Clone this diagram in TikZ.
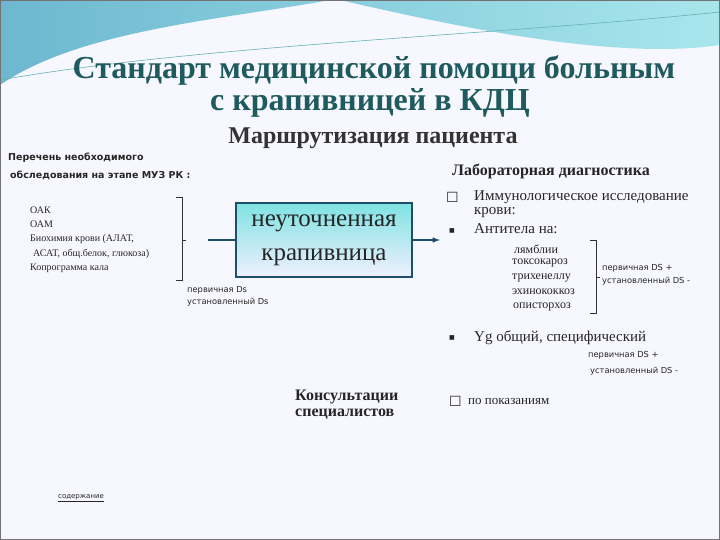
\documentclass[tikz,border=0pt]{standalone}
\usepackage{fontspec}
\setmainfont{Liberation Serif}
\newfontfamily\smallsans{DejaVu Sans}
\usetikzlibrary{positioning,arrows}
\definecolor{titleteal}{HTML}{1E5A5E}
\definecolor{boxedge}{HTML}{1E4F6A}
\definecolor{wavea}{HTML}{6DB8D0}
\definecolor{waveb}{HTML}{A8E6EC}
\tikzset{
  title/.style = {font=\fontsize{32}{34}\selectfont\bfseries, text=titleteal},
  plain/.style = {inner sep=0pt, anchor=west, text=black!85},
  tiny/.style  = {plain, font=\smallsans\fontsize{8.3}{9}\selectfont},
  listtxt/.style = {plain, font=\fontsize{10}{11}\selectfont},
  labtxt/.style = {plain, font=\fontsize{15}{16}\selectfont},
  diagbox/.style = {draw=boxedge, line width=2pt, top color=cyan!55!teal!50, bottom color=blue!6,
    minimum width=176pt, minimum height=73pt, align=center,
    font=\fontsize{25}{34}\selectfont, text=black!85}
}
\begin{document}
\begin{tikzpicture}[x=1pt,y=-1pt]
  \useasboundingbox (0,0) rectangle (720,540);
  \fill[white!97!blue] (0,0) rectangle (720,540);
  % waves on top
  \shade[left color=wavea, right color=waveb] (0,0) -- (720,0) -- (720,45)
    .. controls (620,60) and (470,30) .. (340,0) -- (330,0)
    .. controls (220,20) and (80,30) .. (0,85) -- cycle;
  \draw[teal!60, line width=0.6pt] (0,80) .. controls (200,45) and (500,35) .. (720,12);
  \draw[black!55, line width=1pt] (0.5,0.5) rectangle (719.5,539.5);
  % headings
  \node[title] (t1) at (374,70) {Стандарт медицинской помощи больным};
  \node[title] (t2) at (370,103) {с крапивницей  в  КДЦ};
  \node[font=\fontsize{24}{26}\selectfont\bfseries, text=black!80] (route) at (373,138) {Маршрутизация пациента};
  % left column
  \node[plain, font=\smallsans\bfseries\fontsize{9.5}{10}\selectfont] (need1) at (8,158) {Перечень необходимого};
  \node[plain, font=\smallsans\bfseries\fontsize{9.5}{10}\selectfont] (need2) at (10,175) {обследования на этапе МУЗ РК :};
  \node[listtxt] (oak) at (30,210) {ОАК};
  \node[listtxt] (oam) at (30,224) {ОАМ};
  \node[listtxt] (bio1) at (30,239) {Биохимия крови (АЛАТ,};
  \node[listtxt] (bio2) at (33,254) {АСАТ, общ.белок, глюкоза)};
  \node[listtxt] (kopro) at (30,268) {Копрограмма кала};
  \draw[black!80] (176,197) -- (182,197) -- (182,280) -- (176,280);
  \draw[black!80] (182,240) -- (186,240);
  % central box
  \node[diagbox] (urt) at (324,240) {неуточненная\\крапивница};
  \coordinate (inl) at (208,240);
  \coordinate (outr) at (440,240);
  \draw[boxedge, line width=1.5pt] (inl) -- (urt.west);
  \draw[boxedge, line width=1.5pt, -latex] (urt.east) -- (outr);
  \node[tiny] (ds1) at (187,290) {первичная Ds};
  \node[tiny] (ds2) at (187,302) {установленный Ds};
  % lab column
  \node[plain, font=\fontsize{16}{17}\selectfont\bfseries] (lab) at (452,171) {Лабораторная диагностика};
  \node[plain, font=\smallsans\fontsize{14}{14}\selectfont] (chk1) at (446,197) {☐};
  \node[labtxt] (imm1) at (474,197) {Иммунологическое исследование};
  \node[labtxt] (imm2) at (474,213) {крови:};
  \node[plain, font=\smallsans\fontsize{6}{6}\selectfont] (b1) at (449,231) {■};
  \node[labtxt] (anti) at (474,229) {Антитела  на:};
  \node[listtxt, font=\fontsize{12}{13}\selectfont] (l1) at (514,249) {лямблии};
  \node[listtxt, font=\fontsize{12}{13}\selectfont] (l2) at (512,263) {токсокароз};
  \node[listtxt, font=\fontsize{12}{13}\selectfont] (l3) at (512,278) {трихенеллу};
  \node[listtxt, font=\fontsize{12}{13}\selectfont] (l4) at (512,292) {эхинококкоз};
  \node[listtxt, font=\fontsize{12}{13}\selectfont] (l5) at (513,307) {описторхоз};
  \draw[black!80] (590,240) -- (596,240) -- (596,313) -- (590,313);
  \draw[black!80] (596,277) -- (600,277);
  \node[tiny] (dr1) at (602,268) {первичная DS +};
  \node[tiny] (dr2) at (602,281) {установленный DS  -};
  \node[plain, font=\smallsans\fontsize{6}{6}\selectfont] (b2) at (449,338) {■};
  \node[labtxt] (yg) at (474,338) {Yg  общий, специфический};
  \node[tiny] (dy1) at (588,355) {первичная DS +};
  \node[tiny] (dy2) at (590,371) {установленный DS  -};
  % bottom
  \node[plain, font=\fontsize{16}{17}\selectfont\bfseries] (kons1) at (295,397) {Консультации};
  \node[plain, font=\fontsize{16}{17}\selectfont\bfseries] (kons2) at (295,414) {специалистов};
  \node[plain, font=\smallsans\fontsize{14}{14}\selectfont] (chk2) at (449,401) {☐};
  \node[listtxt, font=\fontsize{13}{14}\selectfont] (pok) at (468,401) {по показаниям};
  \node[tiny, font=\smallsans\fontsize{7}{7}\selectfont] (cont) at (58,498) {\underline{содержание}};
\end{tikzpicture}
\end{document}
